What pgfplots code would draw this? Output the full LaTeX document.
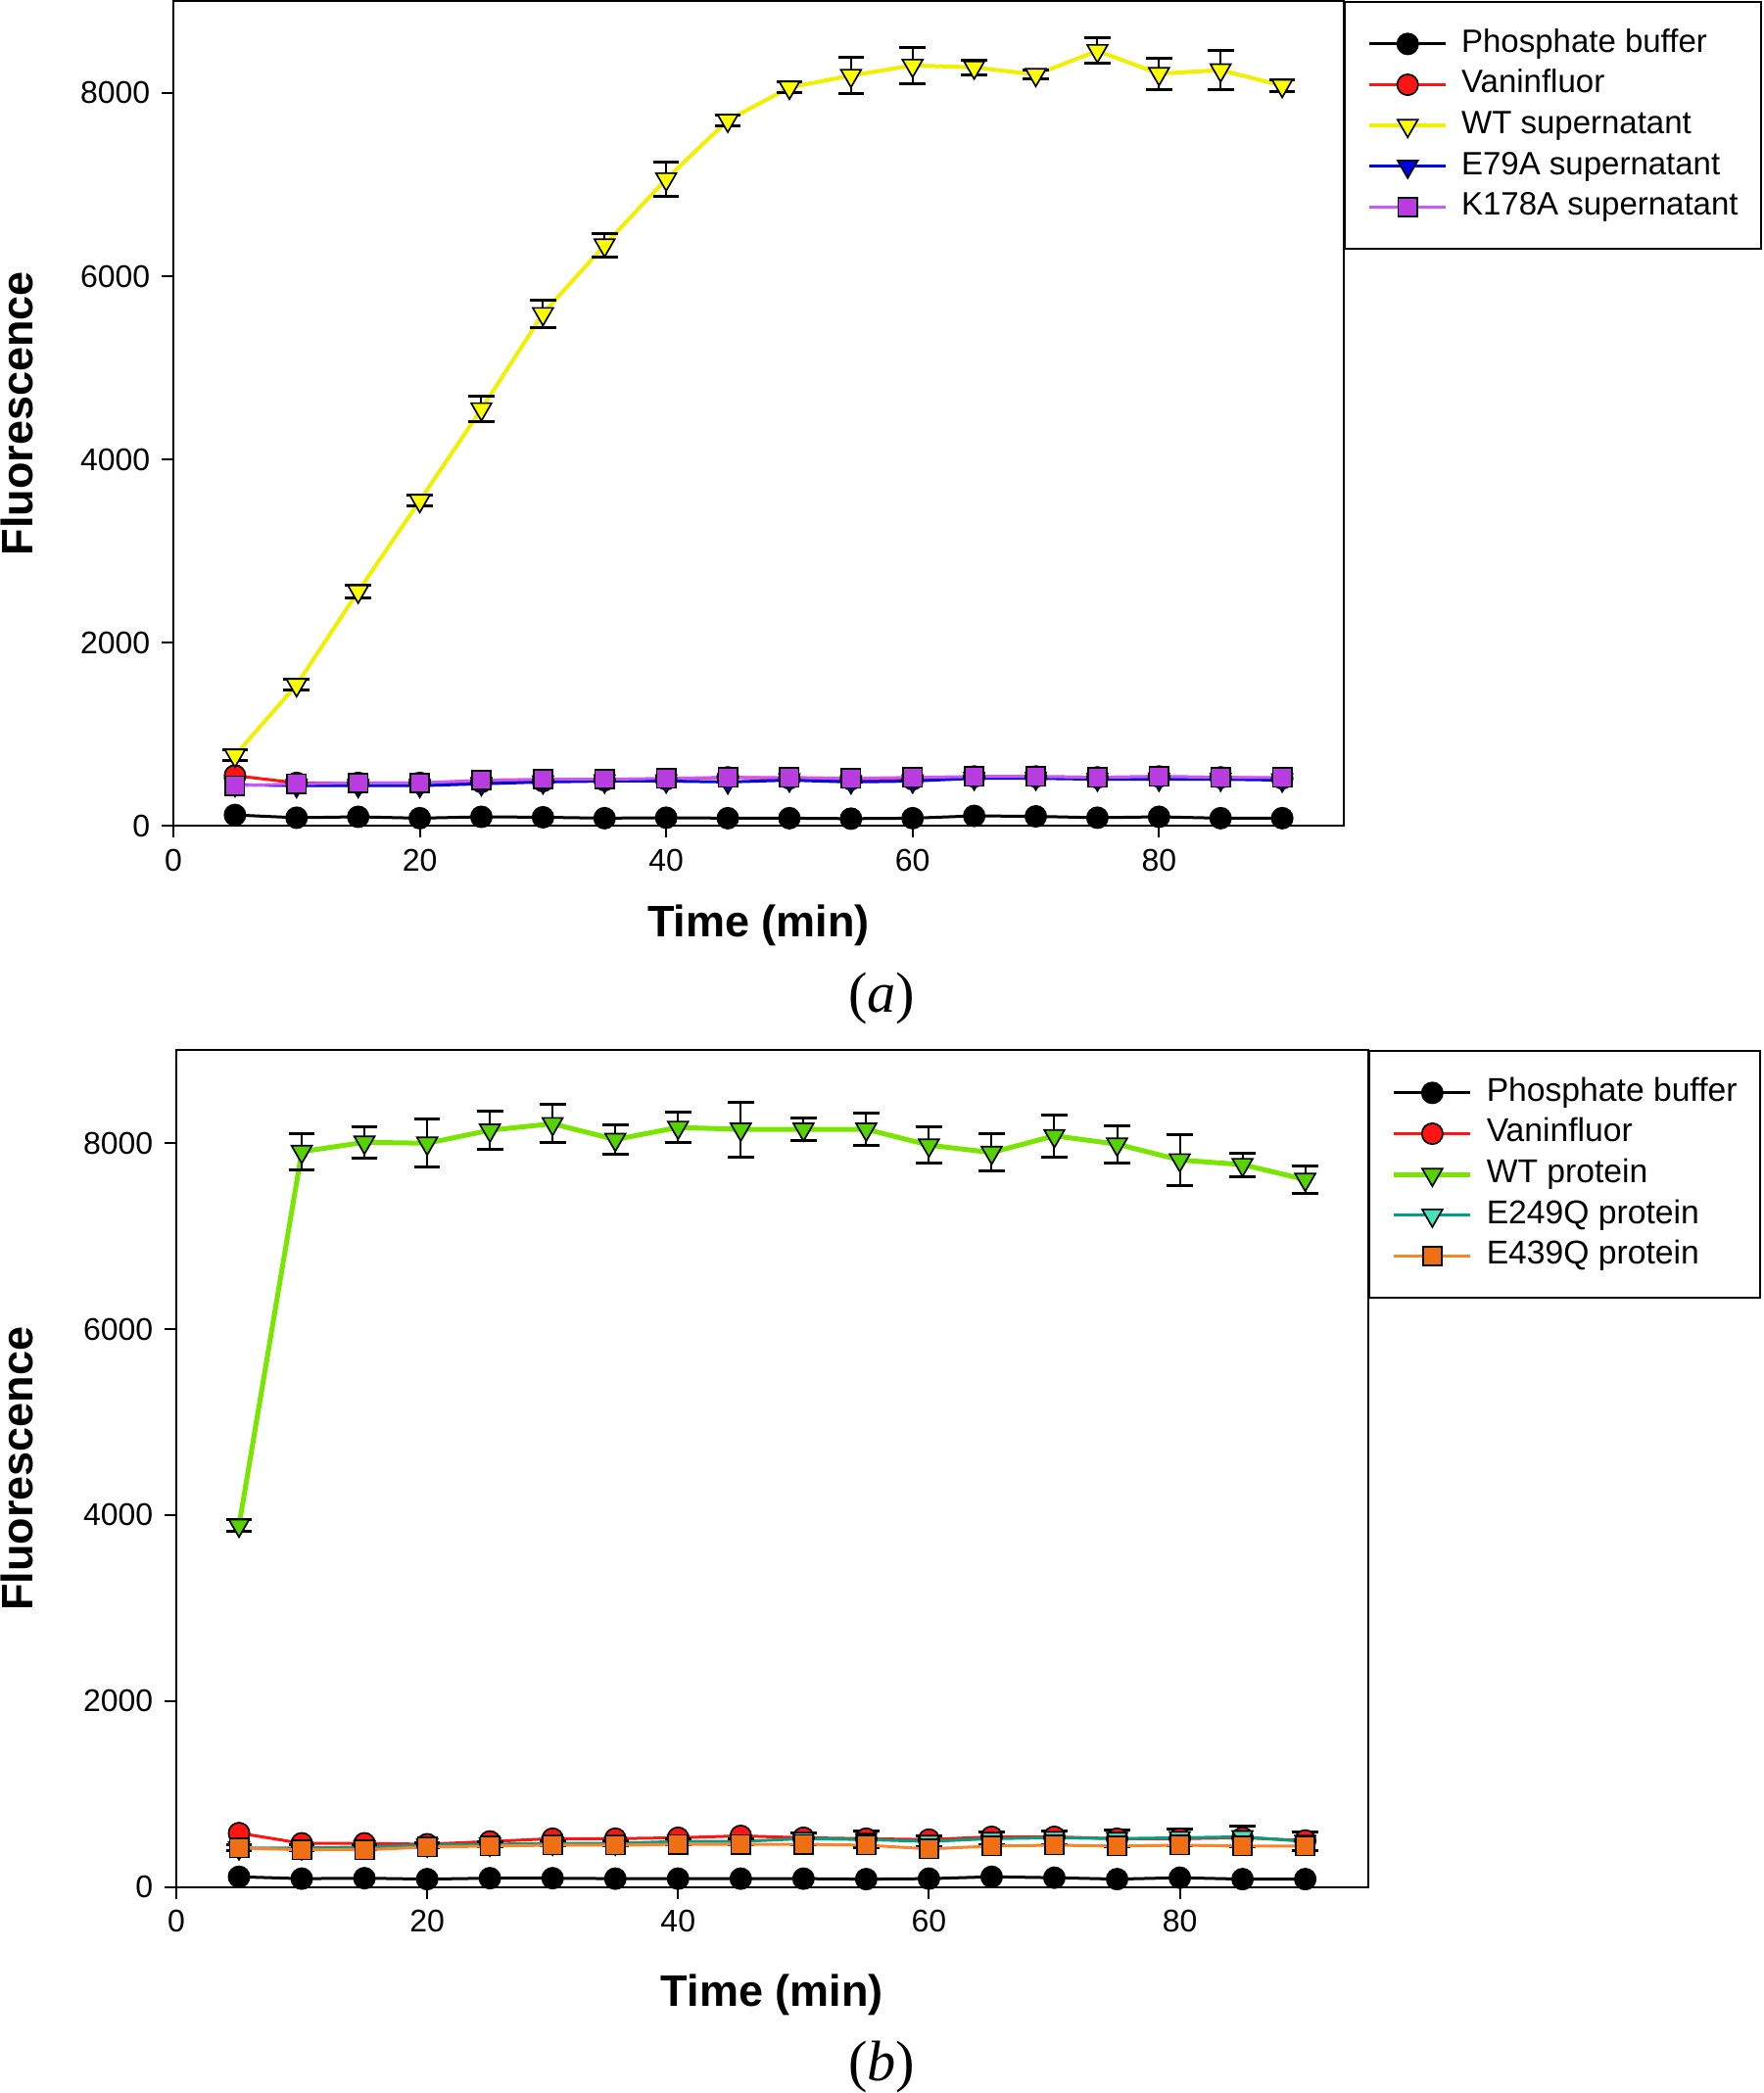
\documentclass[border=0pt]{standalone}
\usepackage{fontspec}
\setmainfont{Liberation Sans}
\newfontfamily\timesfont{Liberation Serif}
\usepackage{pgfplots}
\pgfplotsset{compat=1.18}
\usepackage{pgfplotstable}

\definecolor{cyellow}{RGB}{240,240,0}
\definecolor{cyellowfill}{RGB}{255,255,0}
\definecolor{cred}{RGB}{255,20,20}
\definecolor{cblue}{RGB}{0,0,230}
\definecolor{cmagline}{RGB}{200,90,245}
\definecolor{cmagfill}{RGB}{185,60,225}
\definecolor{cgreenline}{RGB}{120,230,0}
\definecolor{cgreenfill}{RGB}{85,210,0}
\definecolor{ctealline}{RGB}{0,160,130}
\definecolor{ctealfill}{RGB}{70,225,185}
\definecolor{corangeline}{RGB}{255,130,40}
\definecolor{corangefill}{RGB}{240,110,20}

\pgfplotstableread{
t  pb  van wt   wterr e79 k178
5  120 550 770  60    450 440
10 90  470 1540 60    440 460
15 100 470 2560 70    440 470
20 85  470 3550 60    440 470
25 100 480 4550 140   460 500
30 95  490 5590 150   480 510
35 85  500 6340 130   490 510
40 90  510 7060 190   490 520
45 85  530 7700 60    480 530
50 85  520 8060 60    500 530
55 80  510 8190 200   480 520
60 85  510 8300 200   490 530
65 110 540 8280 80    520 540
70 105 540 8200 50    520 540
75 90  530 8460 140   510 530
80 100 540 8210 170   510 540
85 85  530 8250 210   510 530
90 85  520 8080 60    500 530
}\toptable

\pgfplotstableread{
t  pb  van wt   wterr e249 e249err e439
5  110 580 3890 60    420  30      420
10 90  470 7910 196   420  30      400
15 95  470 8010 170   430  30      400
20 85  460 8000 256   450  30      430
25 95  490 8140 204   460  30      440
30 95  520 8210 207   470  30      450
35 90  520 8040 158   470  30      450
40 90  530 8170 160   490  30      460
45 90  550 8150 295   490  30      460
50 90  530 8150 117   520  60      460
55 85  520 8150 175   510  90      450
60 90  510 7980 198   490  60      410
65 110 540 7900 200   520  70      440
70 100 540 8080 228   530  70      450
75 85  520 7990 198   520  90      440
80 100 520 7820 274   530  90      450
85 85  530 7770 126   540  110     440
90 85  500 7610 146   490  100     440
}\bottable

\pgfplotsset{
  legend image code/.code={\draw[mark repeat=2,mark phase=2,#1] plot coordinates {(0cm,0cm) (0.41cm,0cm) (0.82cm,0cm)};},
  myaxis/.style={
    scale only axis,
    xmin=0, xmax=95, ymin=0, ymax=9000,
    xtick={0,20,40,60,80}, ytick={0,2000,4000,6000,8000},
    minor tick num=0,
    tick align=outside, tick pos=left,
    major tick length=3.6pt,
    axis line style={line width=0.6pt},
    every tick/.style={black, line width=0.6pt},
    /pgf/number format/assume math mode=true,
    /pgf/number format/1000 sep={},
    scaled y ticks=false,
    tick label style={font=\fontsize{9.6}{11}\selectfont},
    label style={font=\fontsize{13.5}{16}\selectfont\bfseries},
    ylabel={Fluorescence},
    xlabel={Time (min)},
    legend cell align=left,
    legend style={at={(1,1)}, anchor=north west, draw=black, line width=0.6pt,
      inner xsep=7pt, inner ysep=6.5pt, row sep=0pt, column sep=4.2pt,
      font=\fontsize{9.9}{12}\selectfont,
      nodes={inner xsep=0pt, inner ysep=1.75pt, text height=7pt, text depth=2pt}},
  },
  errstyle/.style={error bars/.cd, y dir=both, y explicit,
      error bar style={black, line width=0.6pt},
      error mark options={rotate=90, black, mark size=4pt, line width=0.9pt}},
}

\begin{document}
\begin{tikzpicture}
\path[use as bounding box] (0,0) rectangle (540pt,-641.1pt);

% ---------- panel (a) ----------
\begin{axis}[myaxis,
  at={(53.1pt,-253.0pt)}, anchor=south west,
  width=358.5pt, height=252.6pt,
  ylabel style={at={([xshift=-43.1pt]axis description cs:0,0.5)}, anchor=base},
  xlabel style={at={([yshift=-34pt]axis description cs:0.5,0)}, anchor=base},
]
\addplot[black, line width=0.9pt, mark=*, mark size=3.2pt,
  mark options={solid, fill=black, draw=black, line width=0.5pt}]
  table[x=t, y=pb] {\toptable};
\addlegendentry{Phosphate buffer}
\addplot[cred, line width=0.9pt, mark=*, mark size=3.2pt,
  mark options={solid, fill=cred, draw=black, line width=0.5pt}]
  table[x=t, y=van] {\toptable};
\addlegendentry{Vaninfluor}
\addplot[cyellow, line width=1.2pt, mark=triangle*, mark size=3.6pt,
  mark options={solid, fill=cyellowfill, draw=black, line width=0.5pt, rotate=180},
  errstyle]
  table[x=t, y=wt, y error=wterr] {\toptable};
\addlegendentry{WT supernatant}
\addplot[cblue, line width=0.9pt, mark=triangle*, mark size=3.6pt,
  mark options={solid, fill=cblue, draw=black, line width=0.5pt, rotate=180}]
  table[x=t, y=e79] {\toptable};
\addlegendentry{E79A supernatant}
\addplot[cmagline, line width=0.9pt, mark=square*, mark size=2.9pt,
  mark options={solid, fill=cmagfill, draw=black, line width=0.5pt}]
  table[x=t, y=k178] {\toptable};
\addlegendentry{K178A supernatant}
\end{axis}

% ---------- panel (b) ----------
\begin{axis}[myaxis,
  at={(54pt,-578.0pt)}, anchor=south west,
  width=365pt, height=256.3pt,
  ylabel style={at={([xshift=-43.8pt]axis description cs:0,0.5)}, anchor=base},
  xlabel style={at={([yshift=-36.4pt]axis description cs:0.5,0)}, anchor=base},
  legend style={font=\fontsize{10.1}{12}\selectfont},
]
\addplot[black, line width=0.9pt, mark=*, mark size=3.2pt,
  mark options={solid, fill=black, draw=black, line width=0.5pt}]
  table[x=t, y=pb] {\bottable};
\addlegendentry{Phosphate buffer}
\addplot[cred, line width=0.9pt, mark=*, mark size=3.2pt,
  mark options={solid, fill=cred, draw=black, line width=0.5pt}]
  table[x=t, y=van] {\bottable};
\addlegendentry{Vaninfluor}
\addplot[cgreenline, line width=1.5pt, mark=triangle*, mark size=3.6pt,
  mark options={solid, fill=cgreenfill, draw=black, line width=0.5pt, rotate=180},
  errstyle]
  table[x=t, y=wt, y error=wterr] {\bottable};
\addlegendentry{WT protein}
\addplot[ctealline, line width=0.9pt, mark=triangle*, mark size=3.6pt,
  mark options={solid, fill=ctealfill, draw=black, line width=0.5pt, rotate=180},
  errstyle]
  table[x=t, y=e249, y error=e249err] {\bottable};
\addlegendentry{E249Q protein}
\addplot[corangeline, line width=0.9pt, mark=square*, mark size=2.9pt,
  mark options={solid, fill=corangefill, draw=black, line width=0.5pt}]
  table[x=t, y=e439] {\bottable};
\addlegendentry{E439Q protein}
\end{axis}

\node[font=\timesfont\fontsize{17.5}{20}\selectfont, anchor=base] at (270pt,-310pt) {({\itshape a})};
\node[font=\timesfont\fontsize{17.5}{20}\selectfont, anchor=base] at (270pt,-637.4pt) {({\itshape b})};
\end{tikzpicture}
\end{document}
